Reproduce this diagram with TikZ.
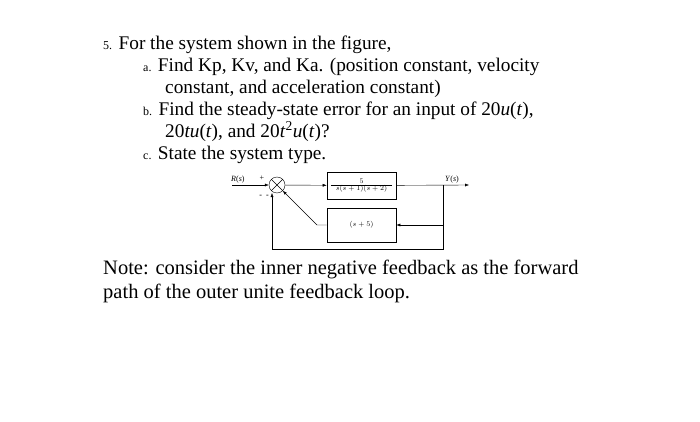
\documentclass[tikz,border=0pt]{standalone}
\usepackage{fontspec}
\setmainfont{Liberation Serif}
\usetikzlibrary{arrows.meta}
\begin{document}
\begin{tikzpicture}[x=1pt,y=-1pt,
  txt/.style={anchor=base west,inner sep=0pt,font=\fontsize{19.3}{20}\selectfont},
  ntxt/.style={anchor=base west,inner sep=0pt,font=\fontsize{20.5}{22}\selectfont},
  blk/.style={draw,semithick,minimum width=69pt,inner sep=0pt,font=\fontsize{7.5}{8}\selectfont},
  arr/.style={-{Latex[length=4pt,width=3pt]}},
  sm/.style={font=\fontsize{8}{8}\selectfont,inner sep=0pt}]
\useasboundingbox (0,0) rectangle (700,422);
\node[txt] (l1) at (103,50) {{\fontsize{12}{12}\selectfont 5.} For the system shown in the figure,};
\node[txt] (l2) at (143,72) {{\fontsize{12}{12}\selectfont a.} Find Kp, Kv, and Ka. (position constant, velocity};
\node[txt] (l3) at (165,94) {constant, and acceleration constant)};
\node[txt] (l4) at (143,116) {{\fontsize{12}{12}\selectfont b.} Find the steady-state error for an input of 20\textit{u}(\textit{t}),};
\node[txt] (l5) at (165,138) {20\textit{tu}(\textit{t}), and 20\textit{t}\textsuperscript{2}\textit{u}(\textit{t})?};
\node[txt] (l6) at (143,160) {{\fontsize{12}{12}\selectfont c.} State the system type.};
\node[ntxt] (n1) at (103,274) {Note: consider the inner negative feedback as the forward};
\node[ntxt] (n2) at (103,298) {path of the outer unite feedback loop.};
% diagram
\node[draw,circle,minimum size=16pt,inner sep=0pt] (sj) at (277,185) {};
\draw (sj.north west) -- (sj.south east) (sj.north east) -- (sj.south west);
\coordinate (rin) at (232,185);
\node[sm,anchor=south west] (rl) at (231,183) {\textit{R}(\textit{s})};
\node[sm] (plus) at (262,178) {+};
\node[sm] (minus) at (264,196) {\textbf{-}\,\,\,\textbf{-}};
\node[blk,minimum height=27pt] (g) at (361.5,185.5) {$\begin{array}{c}5\\[-1pt]\hline s(s+1)(s+2)\end{array}$};
\node[blk,minimum height=34pt] (h) at (361.5,225) {$(s+5)$};
\coordinate (yout) at (469,185);
\coordinate (br) at (443,185);
\node[sm,anchor=south] (yl) at (452,183) {\textit{Y}(\textit{s})};
\draw[arr] (rin) -- (sj);
\draw[arr] (sj) -- (g);
\draw[arr] (g) -- (yout);
\draw[arr] (br) |- (h.east);
\coordinate (hk) at (317,225);
\draw[arr] (h.west) -- (hk) -- (sj.south east);
\coordinate (c1) at (443,249);
\coordinate (c2) at (272,249);
\draw[arr] (br) -- (c1) -- (c2) -- (272,193);
\end{tikzpicture}
\end{document}
